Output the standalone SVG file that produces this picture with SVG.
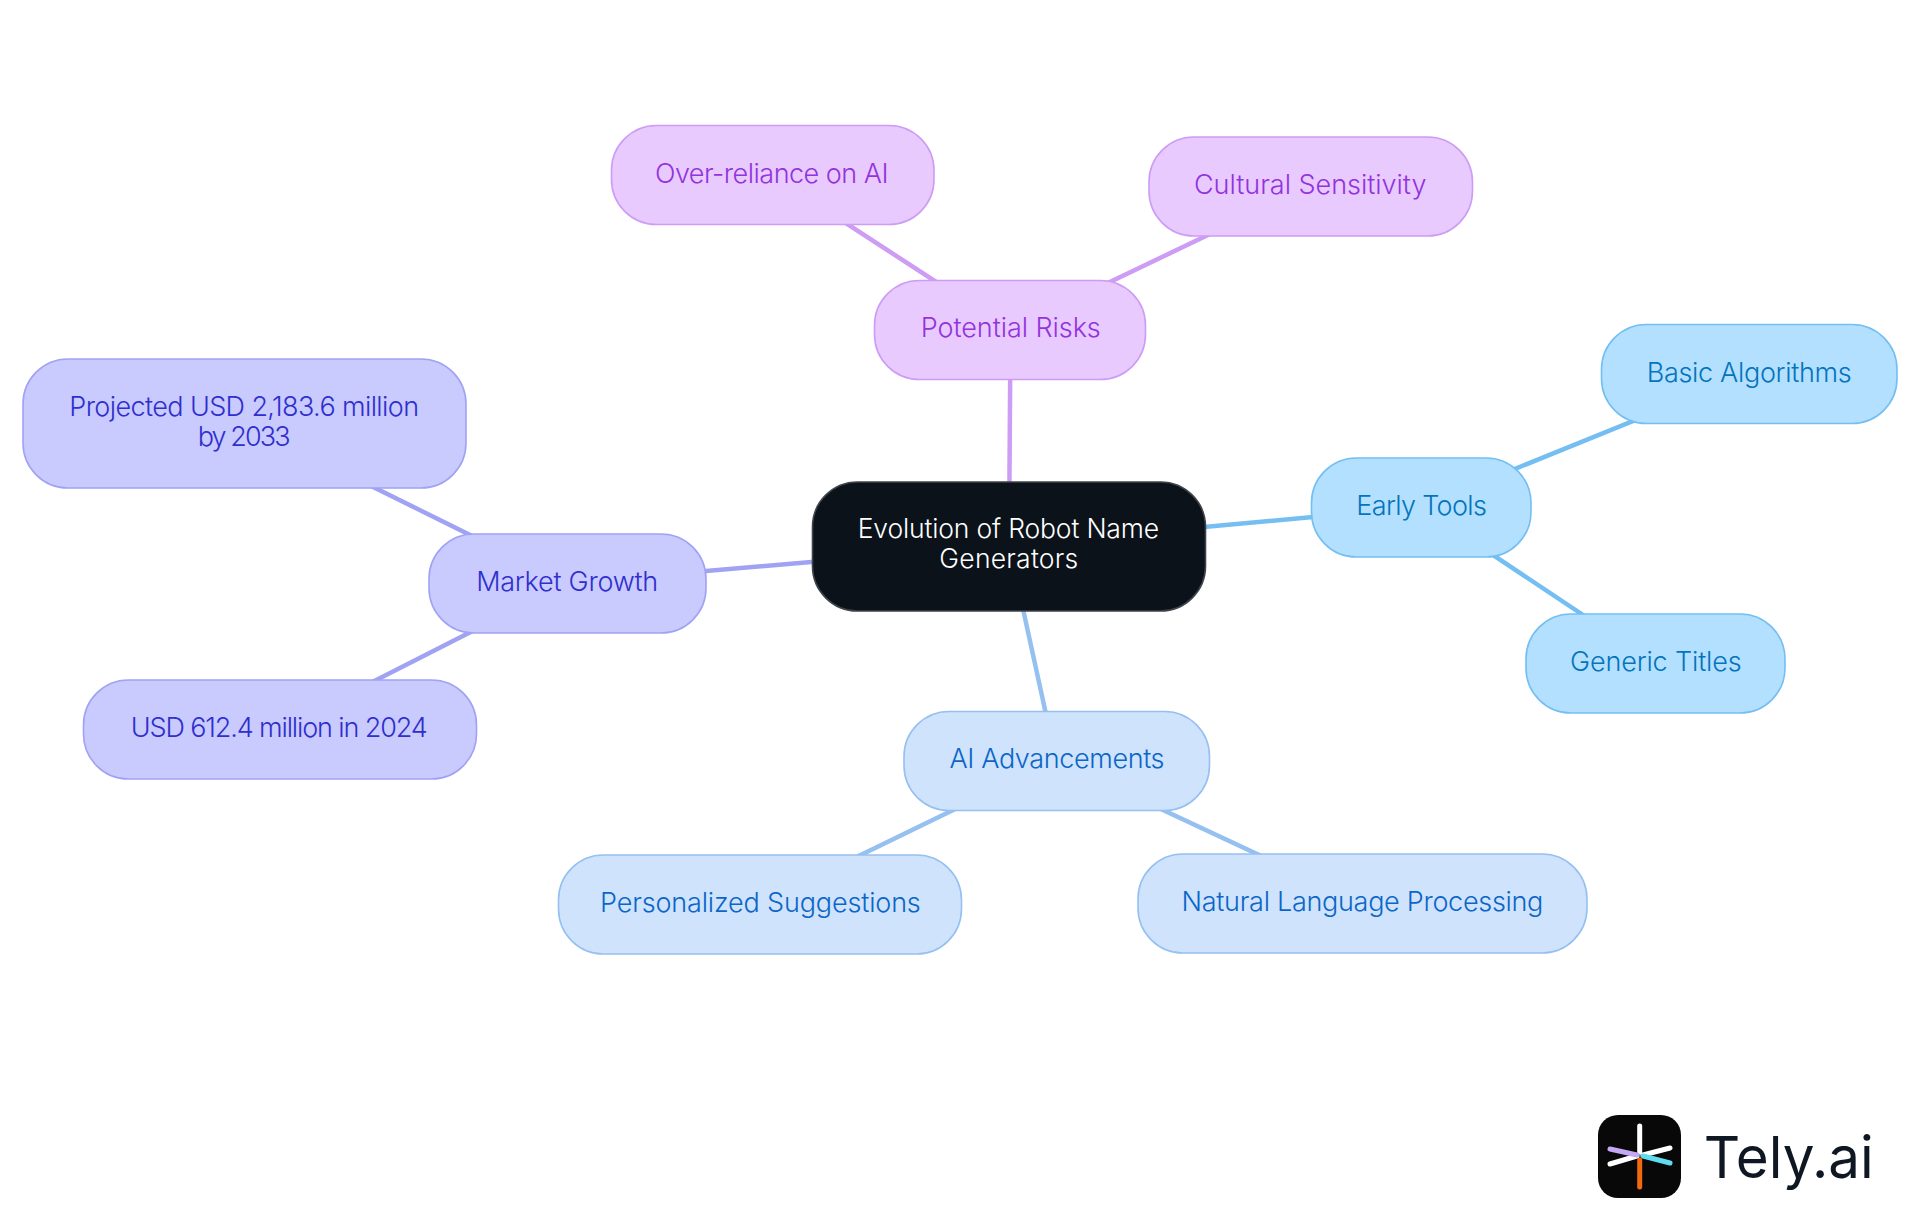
<svg xmlns="http://www.w3.org/2000/svg" width="1920" height="1215" viewBox="0 0 1920 1215">
<style>
text{font-family:"Inter","Noto Sans","Liberation Sans",sans-serif;font-size:27px;text-anchor:middle;font-weight:350}
.c{fill:none;stroke-width:4.500}
.n{stroke-width:1.600}
.root rect{fill:#0b121a;stroke:#3f444a}.root text{fill:#fff}
.pu rect{fill:#e8caff;stroke:#cd9cf4}.pu text{fill:#9333dd}
.bl rect{fill:#b3e0ff;stroke:#74bef2}.bl text{fill:#0474bc}
.ai rect{fill:#cfe3fc;stroke:#96c0f0}.ai text{fill:#0b66c8}
.in rect{fill:#c9cafd;stroke:#a0a2f3}.in text{fill:#2f2fcf}
</style>
<rect width="1920" height="1215" fill="#fff"/>
<g id="connectors">
<path class="c" stroke="#cd9cf4" d="M1009 545L1010.500 330M1010 330L772 175M1010 330L1310 186"/>
<path class="c" stroke="#74bef2" d="M1009 545L1421 507M1421 507L1749 374M1421 507L1655 663"/>
<path class="c" stroke="#96c0f0" d="M1009 545L1056 760M1056 760L760 904M1056 760L1362 903"/>
<path class="c" stroke="#a0a2f3" d="M1009 545L567 583M567 583L244 423M567 583L280 729"/>
</g>
<g id="root" class="root"><rect class="n" x="812.500" y="482" width="393" height="129" rx="45"/><text x="1008.400" y="538" style="font-size:26.500px" textLength="301.300">Evolution of Robot Name</text><text x="1008.800" y="568" style="font-size:26.500px" textLength="139">Generators</text></g>
<g id="risks" class="pu"><rect class="n" x="874.500" y="280.500" width="271" height="99" rx="45"/><text x="1010.800" y="337" textLength="180">Potential Risks</text></g>
<g id="overreliance" class="pu"><rect class="n" x="611.500" y="125.500" width="322.500" height="99" rx="45"/><text x="771.700" y="183" textLength="233.600">Over-reliance on AI</text></g>
<g id="cultural" class="pu"><rect class="n" x="1149" y="137" width="323.500" height="99" rx="45"/><text x="1310.200" y="194" textLength="232.500">Cultural Sensitivity</text></g>
<g id="early" class="bl"><rect class="n" x="1311.500" y="458" width="219.500" height="99" rx="45"/><text x="1421.600" y="515" textLength="130.600">Early Tools</text></g>
<g id="basic" class="bl"><rect class="n" x="1601.500" y="324.500" width="295.500" height="99" rx="45"/><text x="1749.200" y="382" textLength="205">Basic Algorithms</text></g>
<g id="generic" class="bl"><rect class="n" x="1526" y="614" width="259" height="99" rx="45"/><text x="1655.800" y="671" textLength="171.600">Generic Titles</text></g>
<g id="aiadv" class="ai"><rect class="n" x="904" y="711.500" width="305.500" height="99" rx="45"/><text x="1057" y="768" textLength="215">AI Advancements</text></g>
<g id="personalized" class="ai"><rect class="n" x="558.500" y="855" width="403" height="99" rx="45"/><text x="760.400" y="912" textLength="320.800">Personalized Suggestions</text></g>
<g id="nlp" class="ai"><rect class="n" x="1138" y="854" width="449" height="99" rx="45"/><text x="1362.500" y="911" textLength="361.800">Natural Language Processing</text></g>
<g id="market" class="in"><rect class="n" x="429" y="534" width="277" height="99" rx="45"/><text x="567.200" y="591" textLength="182">Market Growth</text></g>
<g id="projected" class="in"><rect class="n" x="23" y="359" width="443" height="129" rx="45"/><text x="244.200" y="416" textLength="349.700">Projected USD 2,183.6 million</text><text x="244.200" y="446" textLength="93">by 2033</text></g>
<g id="usd612" class="in"><rect class="n" x="83.500" y="680" width="393" height="99" rx="45"/><text x="279.200" y="737" textLength="297">USD 612.4 million in 2024</text></g>
<g id="logo">
<rect x="1598" y="1115" width="83" height="83" rx="20" fill="#080808"/>
<g fill="none" stroke-width="5" stroke-linecap="round">
<path stroke="#fff" d="M1639.700 1152V1126M1637 1156L1610 1164M1643 1155L1670 1148"/>
<path stroke="#c4a8f5" d="M1637 1155L1610 1149"/>
<path stroke="#5fdcf0" d="M1643 1156L1670 1163"/>
<path stroke="#f26a10" d="M1639.700 1160V1187"/>
</g>
<text x="1788.700" y="1178" style="font-size:58px;font-weight:400;fill:#0f1722" textLength="170" lengthAdjust="spacingAndGlyphs">Tely.ai</text>
</g>
</svg>
